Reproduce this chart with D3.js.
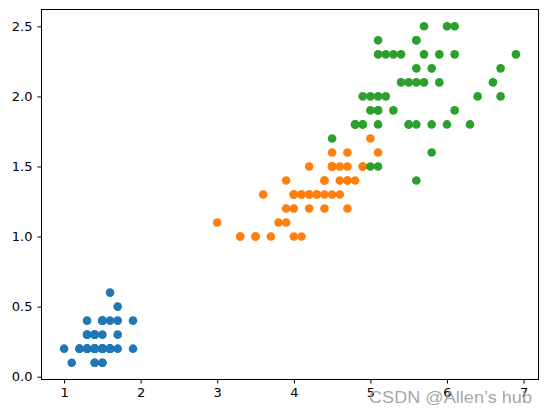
<!DOCTYPE html>
<html><head><meta charset="utf-8">
<script src="https://cdn.jsdelivr.net/npm/d3@7"></script>
<style>body{margin:0;background:#fff}svg{display:block}</style>
</head><body>
<script>
const setosaLen=[1.4,1.4,1.3,1.5,1.4,1.7,1.4,1.5,1.4,1.5,1.5,1.6,1.4,1.1,1.2,1.5,1.3,1.4,1.7,1.5,1.7,1.5,1.0,1.7,1.9,1.6,1.6,1.5,1.4,1.6,1.6,1.5,1.5,1.4,1.5,1.2,1.3,1.4,1.3,1.5,1.3,1.3,1.3,1.6,1.9,1.4,1.6,1.4,1.5,1.4];
const setosaWid=[0.2,0.2,0.2,0.2,0.2,0.4,0.3,0.2,0.2,0.1,0.2,0.2,0.1,0.1,0.2,0.4,0.4,0.3,0.3,0.3,0.2,0.4,0.2,0.5,0.2,0.2,0.4,0.2,0.2,0.2,0.2,0.4,0.1,0.2,0.2,0.2,0.2,0.1,0.2,0.2,0.3,0.3,0.2,0.6,0.4,0.3,0.2,0.2,0.2,0.2];
const versiLen=[4.7,4.5,4.9,4.0,4.6,4.5,4.7,3.3,4.6,3.9,3.5,4.2,4.0,4.7,3.6,4.4,4.5,4.1,4.5,3.9,4.8,4.0,4.9,4.7,4.3,4.4,4.8,5.0,4.5,3.5,3.8,3.7,3.9,5.1,4.5,4.5,4.7,4.4,4.1,4.0,4.4,4.6,4.0,3.3,4.2,4.2,4.2,4.3,3.0,4.1];
const versiWid=[1.4,1.5,1.5,1.3,1.5,1.3,1.6,1.0,1.3,1.4,1.0,1.5,1.0,1.4,1.3,1.4,1.5,1.0,1.5,1.1,1.8,1.3,1.5,1.2,1.3,1.4,1.4,1.7,1.5,1.0,1.1,1.0,1.2,1.6,1.5,1.6,1.5,1.3,1.3,1.3,1.2,1.4,1.2,1.0,1.3,1.2,1.3,1.3,1.1,1.3];
const virgLen=[6.0,5.1,5.9,5.6,5.8,6.6,4.5,6.3,5.8,6.1,5.1,5.3,5.5,5.0,5.1,5.3,5.5,6.7,6.9,5.0,5.7,4.9,6.7,4.9,5.7,6.0,4.8,4.9,5.6,5.8,6.1,6.4,5.6,5.1,5.6,6.1,5.6,5.5,4.8,5.4,5.6,5.1,5.1,5.9,5.7,5.2,5.0,5.2,5.4,5.1];
const virgWid=[2.5,1.9,2.1,1.8,2.2,2.1,1.7,1.8,1.8,2.5,2.0,1.9,2.1,2.0,2.4,2.3,1.8,2.2,2.3,1.5,2.3,2.0,2.0,1.8,2.1,1.8,1.8,1.8,2.1,1.6,1.9,2.0,2.2,1.5,1.4,2.3,2.4,1.8,1.8,2.1,2.4,2.3,1.9,2.3,2.5,2.3,1.9,2.0,2.3,1.8];
const xTicks=[1,2,3,4,5,6,7];
const yTicks=[0.0,0.5,1.0,1.5,2.0,2.5];
const colors=["#1f77b4","#ff7f0e","#2ca02c"];

const W=547,H=413;
const L=41.5,R=538.5,T=9.5,B=379.5;
const svg=d3.select("body").append("svg").attr("width",W).attr("height",H);
const x=d3.scaleLinear().domain([0.705,7.195]).range([L,R]);
const y=d3.scaleLinear().domain([-0.02,2.62]).range([B,T]);

const series=[[setosaLen,setosaWid],[versiLen,versiWid],[virgLen,virgWid]];
series.forEach((s,i)=>{
  svg.append("g").selectAll("circle").data(s[0].map((v,j)=>[v,s[1][j]])).join("circle")
    .attr("cx",d=>x(d[0])).attr("cy",d=>y(d[1])).attr("r",4.3).attr("fill",colors[i]);
});

const fontCss="DejaVu Sans, sans-serif";
const xa=svg.append("g").attr("transform",`translate(0,${B})`)
  .call(d3.axisBottom(x).tickValues(xTicks).tickFormat(d3.format("d")).tickSize(4).tickPadding(4));
const ya=svg.append("g").attr("transform",`translate(${L},0)`)
  .call(d3.axisLeft(y).tickValues(yTicks).tickFormat(d3.format(".1f")).tickSize(4).tickPadding(5));
[xa,ya].forEach(a=>{
  a.select(".domain").remove();
  a.selectAll("text").attr("font-family",fontCss).attr("font-size",13).attr("fill","#000");
  a.selectAll("line").attr("stroke","#000").attr("stroke-width",1);
});
svg.append("rect").attr("x",L).attr("y",T).attr("width",R-L).attr("height",B-T)
  .attr("fill","none").attr("stroke","#000").attr("stroke-width",1);

svg.append("text").attr("x",369).attr("y",403).attr("font-family","Liberation Sans, Arial, sans-serif")
  .attr("font-size",16).attr("fill","#9a9a9a").attr("fill-opacity",0.9)
  .attr("textLength",163).attr("lengthAdjust","spacingAndGlyphs")
  .text("CSDN @Allen\u2019s hub");
</script>
</body></html>
